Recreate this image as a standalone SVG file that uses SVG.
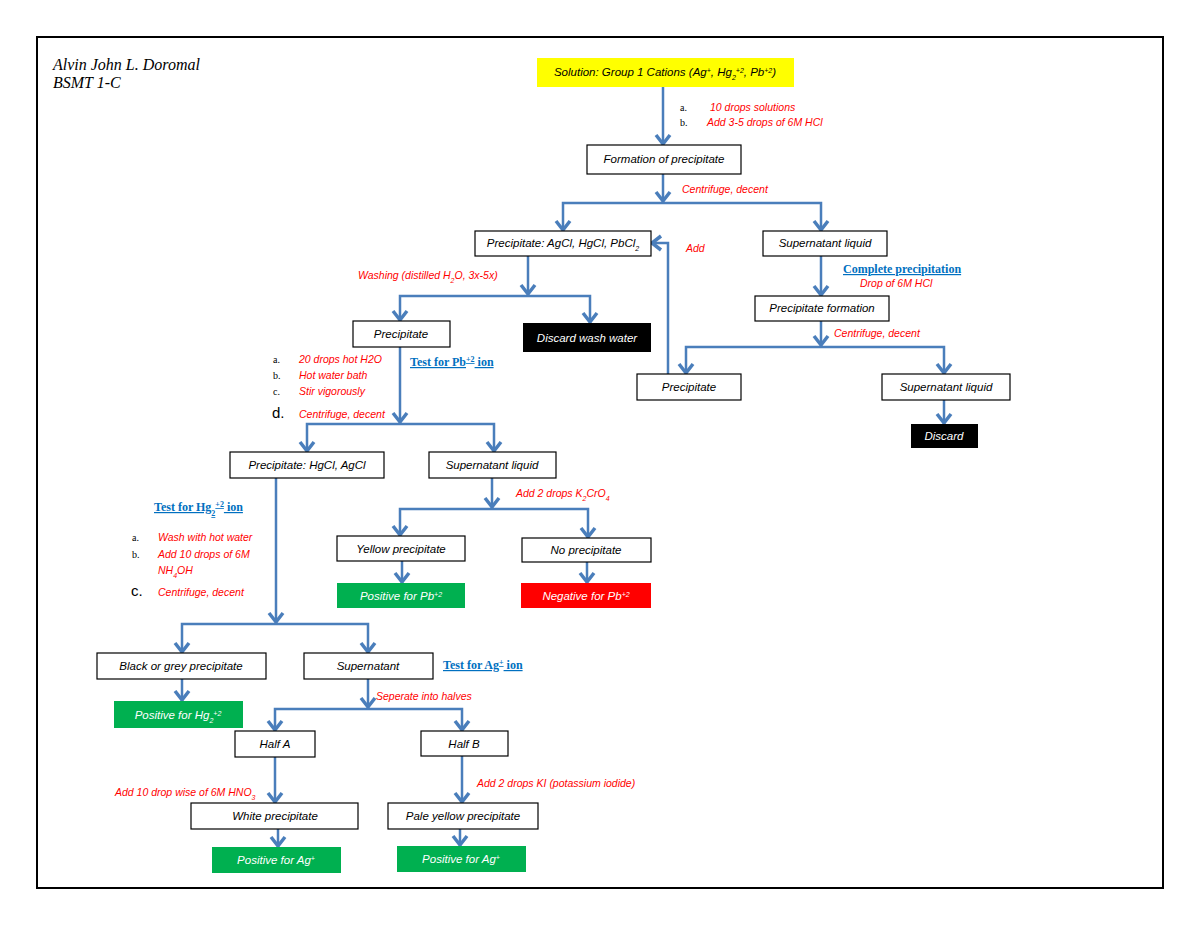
<svg xmlns="http://www.w3.org/2000/svg" width="1200" height="927" viewBox="0 0 1200 927">
<style>
.bx{fill:#fff;stroke:#000;stroke-width:1.2}
.dk{fill:#000}
.gr{fill:#00b050}
.rd{fill:#ff0000}
.yl{fill:#ffff00}
.t{font-family:"Liberation Sans",Arial,sans-serif;font-style:italic;font-size:11.5px;text-anchor:middle;fill:#000}
.tw{font-family:"Liberation Sans",Arial,sans-serif;font-style:italic;font-size:11.5px;text-anchor:middle;fill:#fff}
.r{font-family:"Liberation Sans",Arial,sans-serif;font-style:italic;font-size:10.5px;fill:#ff0000}
.b{font-family:"Liberation Serif","Times New Roman",serif;font-weight:bold;font-size:12px;fill:#0070c0;text-decoration:underline}
.k{font-family:"Liberation Serif","Times New Roman",serif;font-size:10px;fill:#000}
.kd{font-family:"Liberation Sans",Arial,sans-serif;font-size:15px;fill:#000}
.ti{font-family:"Liberation Serif","Times New Roman",serif;font-style:italic;font-size:16px;fill:#000}
.c{fill:none;stroke:#4a7ebb;stroke-width:2.5;marker-end:url(#ah)}
.c2{fill:none;stroke:#4a7ebb;stroke-width:2.5;marker-start:url(#ah);marker-end:url(#ah)}
</style>
<defs>
<marker id="ah" markerUnits="userSpaceOnUse" viewBox="-14 -10 16 20" markerWidth="16" markerHeight="20" refX="0" refY="0" orient="auto-start-reverse" overflow="visible">
<path d="M-10,-7 L-1,0 L-10,7" fill="none" stroke="#4a7ebb" stroke-width="3.5"/>
</marker>
</defs>
<rect x="37" y="37" width="1126" height="851" fill="none" stroke="#000" stroke-width="2"/>
<g id="title">
<text class="ti" x="53" y="70">Alvin John L. Doromal</text>
<text class="ti" x="53" y="88">BSMT 1-C</text>
</g>
<g id="connectors">
<path class="c" d="M663,87 V145"/>
<path class="c" d="M663,174 V202"/>
<path class="c2" d="M563,231 V203 H821 V231"/>
<path class="c" d="M668,374 V243 H651"/>
<path class="c" d="M821,256 V296"/>
<path class="c" d="M821,321 V346"/>
<path class="c2" d="M686,374 V347 H944 V374"/>
<path class="c" d="M944,400 V424"/>
<path class="c" d="M528,256 V295"/>
<path class="c2" d="M400,321 V296 H590 V323"/>
<path class="c" d="M400,347 V423"/>
<path class="c2" d="M307,452 V424 H494 V452"/>
<path class="c" d="M492,478 V508"/>
<path class="c2" d="M400,536 V509 H588 V538"/>
<path class="c" d="M402,561 V583"/>
<path class="c" d="M587,562 V583"/>
<path class="c" d="M276,478 V623"/>
<path class="c2" d="M182,653 V624 H368 V653"/>
<path class="c" d="M182,679 V701"/>
<path class="c" d="M368,679 V708"/>
<path class="c2" d="M275,731 V709 H462 V731"/>
<path class="c" d="M275,757 V803"/>
<path class="c" d="M462,756 V803"/>
<path class="c" d="M278,829 V847"/>
<path class="c" d="M460,829 V846"/>
</g>
<g id="labels">
<text class="k" x="680" y="111">a.</text>
<text class="r" x="710" y="111">10 drops solutions</text>
<text class="k" x="680" y="126">b.</text>
<text class="r" x="707" y="126">Add 3-5 drops of 6M HCl</text>
<text class="r" x="682" y="193">Centrifuge, decent</text>
<text class="r" x="686" y="252">Add</text>
<text class="b" x="843" y="273">Complete precipitation</text>
<text class="r" x="860" y="287">Drop of 6M HCl</text>
<text class="r" x="834" y="337">Centrifuge, decent</text>
<text class="r" x="358" y="279">Washing (distilled H<tspan baseline-shift="sub" font-size="7">2</tspan>O, 3x-5x)</text>
<text class="k" x="273" y="363">a.</text>
<text class="r" x="299" y="363">20 drops hot H2O</text>
<text class="k" x="273" y="379">b.</text>
<text class="r" x="299" y="379">Hot water bath</text>
<text class="k" x="273" y="395">c.</text>
<text class="r" x="299" y="395">Stir vigorously</text>
<text class="kd" x="272" y="418">d.</text>
<text class="r" x="299" y="418">Centrifuge, decent</text>
<text class="b" x="410" y="366">Test for Pb<tspan baseline-shift="super" font-size="8">+2</tspan> ion</text>
<text class="r" x="516" y="497">Add 2 drops K<tspan baseline-shift="sub" font-size="7">2</tspan>CrO<tspan baseline-shift="sub" font-size="7">4</tspan></text>
<text class="b" x="154" y="511">Test for Hg<tspan baseline-shift="sub" font-size="8">2</tspan><tspan baseline-shift="super" font-size="8">+2</tspan> ion</text>
<text class="k" x="132" y="541">a.</text>
<text class="r" x="158" y="541">Wash with hot water</text>
<text class="k" x="132" y="558">b.</text>
<text class="r" x="158" y="558">Add 10 drops of 6M</text>
<text class="r" x="158" y="574">NH<tspan baseline-shift="sub" font-size="7">4</tspan>OH</text>
<text class="kd" x="131" y="596">c.</text>
<text class="r" x="158" y="596">Centrifuge, decent</text>
<text class="b" x="443" y="669">Test for Ag<tspan baseline-shift="super" font-size="8">+</tspan> ion</text>
<text class="r" x="376" y="700">Seperate into halves</text>
<text class="r" x="115" y="796">Add 10 drop wise of 6M HNO<tspan baseline-shift="sub" font-size="7">3</tspan></text>
<text class="r" x="477" y="787">Add 2 drops KI (potassium iodide)</text>
</g>
<g id="n_solution"><rect class="yl" x="537" y="58" width="257" height="29"/><text class="t" x="665" y="76">Solution: Group 1 Cations (Ag<tspan baseline-shift="super" font-size="7">+</tspan>, Hg<tspan baseline-shift="sub" font-size="7">2</tspan><tspan baseline-shift="super" font-size="7">+2</tspan>, Pb<tspan baseline-shift="super" font-size="7">+2</tspan>)</text></g>
<g id="n_formation"><rect class="bx" x="587" y="145" width="154" height="29"/><text class="t" x="664" y="163">Formation of precipitate</text></g>
<g id="n_ppt1"><rect class="bx" x="475" y="231" width="176" height="25"/><text class="t" x="563" y="247">Precipitate: AgCl, HgCl, PbCl<tspan baseline-shift="sub" font-size="7">2</tspan></text></g>
<g id="n_sup1"><rect class="bx" x="763" y="231" width="124" height="25"/><text class="t" x="825" y="247">Supernatant liquid</text></g>
<g id="n_pptform"><rect class="bx" x="755" y="296" width="134" height="25"/><text class="t" x="822" y="312">Precipitate formation</text></g>
<g id="n_ppt_r"><rect class="bx" x="637" y="374" width="104" height="26"/><text class="t" x="689" y="391">Precipitate</text></g>
<g id="n_sup_r"><rect class="bx" x="882" y="374" width="128" height="26"/><text class="t" x="946" y="391">Supernatant liquid</text></g>
<g id="n_discard"><rect class="dk" x="911" y="424" width="67" height="24"/><text class="tw" x="944" y="440">Discard</text></g>
<g id="n_ppt2"><rect class="bx" x="353" y="321" width="97" height="26"/><text class="t" x="401" y="338">Precipitate</text></g>
<g id="n_discardwash"><rect class="dk" x="523" y="323" width="128" height="29"/><text class="tw" x="587" y="342">Discard wash water</text></g>
<g id="n_ppt3"><rect class="bx" x="230" y="452" width="154" height="26"/><text class="t" x="307" y="469">Precipitate: HgCl, AgCl</text></g>
<g id="n_sup2"><rect class="bx" x="429" y="452" width="127" height="26"/><text class="t" x="492" y="469">Supernatant liquid</text></g>
<g id="n_yellow"><rect class="bx" x="337" y="536" width="128" height="25"/><text class="t" x="401" y="553">Yellow precipitate</text></g>
<g id="n_noppt"><rect class="bx" x="522" y="538" width="129" height="24"/><text class="t" x="586" y="554">No precipitate</text></g>
<g id="n_posPb"><rect class="gr" x="337" y="583" width="128" height="25"/><text class="tw" x="401" y="600">Positive for Pb<tspan baseline-shift="super" font-size="7">+2</tspan></text></g>
<g id="n_negPb"><rect class="rd" x="521" y="583" width="130" height="25"/><text class="tw" x="586" y="600">Negative for Pb<tspan baseline-shift="super" font-size="7">+2</tspan></text></g>
<g id="n_black"><rect class="bx" x="97" y="653" width="169" height="26"/><text class="t" x="181" y="670">Black or grey precipitate</text></g>
<g id="n_supernatant"><rect class="bx" x="304" y="653" width="129" height="26"/><text class="t" x="368" y="670">Supernatant</text></g>
<g id="n_posHg"><rect class="gr" x="114" y="701" width="129" height="27"/><text class="tw" x="178" y="719">Positive for Hg<tspan baseline-shift="sub" font-size="7">2</tspan><tspan baseline-shift="super" font-size="7">+2</tspan></text></g>
<g id="n_halfA"><rect class="bx" x="235" y="731" width="80" height="26"/><text class="t" x="275" y="748">Half A</text></g>
<g id="n_halfB"><rect class="bx" x="421" y="731" width="87" height="25"/><text class="t" x="464" y="748">Half B</text></g>
<g id="n_white"><rect class="bx" x="191" y="803" width="167" height="26"/><text class="t" x="275" y="820">White precipitate</text></g>
<g id="n_pale"><rect class="bx" x="388" y="803" width="150" height="26"/><text class="t" x="463" y="820">Pale yellow precipitate</text></g>
<g id="n_posAg1"><rect class="gr" x="212" y="847" width="129" height="26"/><text class="tw" x="276" y="864">Positive for Ag<tspan baseline-shift="super" font-size="7">+</tspan></text></g>
<g id="n_posAg2"><rect class="gr" x="397" y="846" width="129" height="26"/><text class="tw" x="461" y="863">Positive for Ag<tspan baseline-shift="super" font-size="7">+</tspan></text></g>
</svg>
